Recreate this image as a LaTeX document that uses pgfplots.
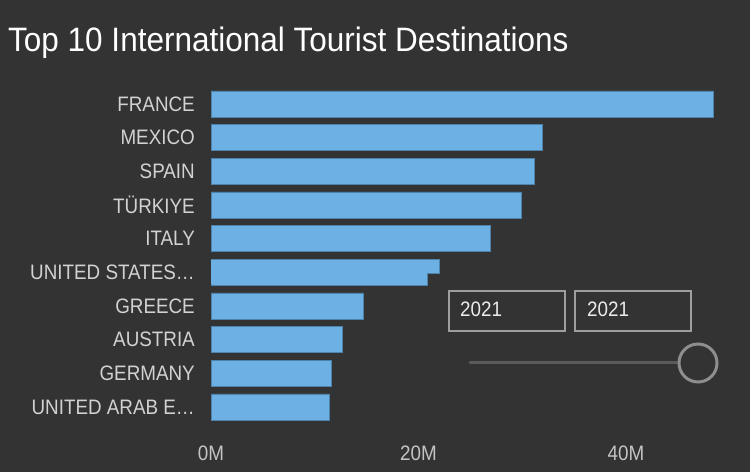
\documentclass[border=0pt]{standalone}
\usepackage{pgfplots}
\pgfplotsset{compat=1.18}
\usepackage{fontspec}
\setmainfont{Liberation Sans}
\usepackage{graphicx}
\definecolor{bg}{HTML}{333333}
\definecolor{barblue}{HTML}{6CB0E4}
\definecolor{baredge}{HTML}{4E83AD}
\definecolor{lbl}{HTML}{D2D2D2}
\definecolor{tck}{HTML}{C4C4C4}
\definecolor{boxc}{HTML}{9E9E9E}
\definecolor{slline}{HTML}{5A5A5A}
\definecolor{knob}{HTML}{8E8E8E}
\newcommand\sx[1]{\scalebox{0.9}[1]{#1}}
\newcommand\st[1]{\scalebox{0.93}[1]{#1}}
\begin{document}
\begin{tikzpicture}[x=1bp,y=1bp]
\fill[bg] (0,0) rectangle (750,472);
\node[anchor=base west, inner sep=0pt, text=white, font=\fontsize{34}{40}\selectfont] at (8,420) {\st{Top 10 International Tourist Destinations}};
\begin{axis}[
  at={(211bp,48.2bp)}, anchor=south west,
  scale only axis, width=502bp, height=336.7bp,
  xmin=0, xmax=48.4, ymin=-0.5, ymax=9.5,
  y dir=reverse,
  axis line style={draw=none},
  major tick length=0pt,
  xtick={0,20,40},
  xticklabels={\sx{0M},\sx{20M},\sx{40M}},
  ytick={0,1,2,3,4,5,6,7,8,9},
  yticklabels={\sx{FRANCE},\sx{MEXICO},\sx{SPAIN},\sx{TÜRKIYE},\sx{ITALY},\sx{UNITED STATES…},\sx{GREECE},\sx{AUSTRIA},\sx{GERMANY},\sx{UNITED ARAB E…}},
  y tick label style={anchor=east, inner sep=0pt, xshift=-16bp, text=lbl, font=\fontsize{21}{24}\selectfont},
  x tick label style={anchor=north, inner sep=0pt, yshift=-22bp, text=tck, font=\fontsize{21}{24}\selectfont},
  clip=false,
]
\addplot[xbar, bar width=26bp, bar shift=0pt, fill=barblue, draw=baredge, line width=0.6bp] coordinates {
  (48.4,0) (31.9,1) (31.2,2) (29.9,3) (26.9,4) (20.9,5) (14.7,6) (12.7,7) (11.6,8) (11.4,9)
};
\addplot[xbar, bar width=14bp, bar shift=6bp, fill=barblue, draw=baredge, line width=0.6bp] coordinates {
  (22.0,5)
};
\addplot[xbar, bar width=24bp, bar shift=0bp, fill=barblue, draw=none] coordinates {
  (20.85,5)
};
\end{axis}
\draw[boxc, line width=2bp] (449,181) rectangle (565,141);
\draw[boxc, line width=2bp] (575,181) rectangle (691,141);
\node[anchor=base west, inner sep=0pt, text=white!92!black, font=\fontsize{21}{24}\selectfont] at (460,155) {\sx{2021}};
\node[anchor=base west, inner sep=0pt, text=white!92!black, font=\fontsize{21}{24}\selectfont] at (587,155) {\sx{2021}};
\draw[slline, line width=3bp, line cap=round] (470,109) -- (680,109);
\draw[knob, line width=3bp, fill=bg] (698,109) circle (19);
\pgfresetboundingbox
\useasboundingbox (0,0) rectangle (750,472);
\end{tikzpicture}
\end{document}
